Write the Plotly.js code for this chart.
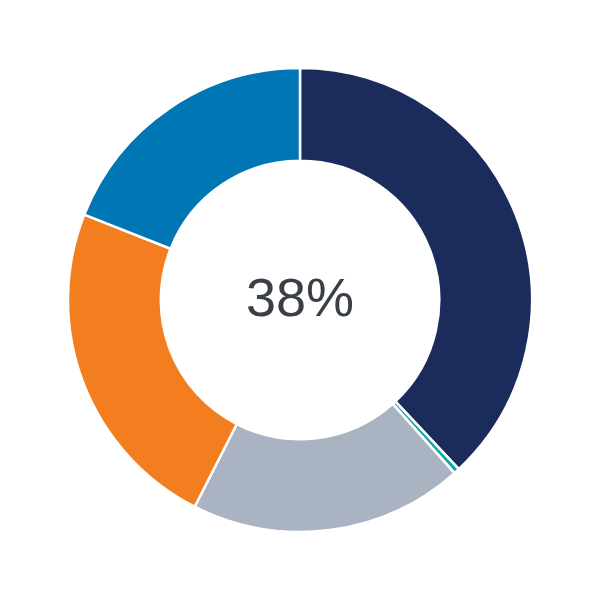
<!DOCTYPE html>
<html><head><meta charset="utf-8">
<script src="https://cdn.plot.ly/plotly-3.0.1.min.js"></script>
<style>html,body{margin:0;padding:0;background:#fff}#c{width:600px;height:600px}</style>
</head><body><div id="c"></div>
<script>
const labels = ["A","B","C","D","E"];
const values = [38, 0.4, 19.1, 23.5, 19];
const colors = ["#1b2b5b","#12a7a0","#a9b3c1","#f37e20","#0176b4"];
const centerText = "38%";
Plotly.newPlot("c", [{
  type: "pie", labels: labels, values: values, hole: 0.6, sort: false,
  direction: "clockwise", rotation: 0,
  marker: {colors: colors, line: {color: "#ffffff", width: 2.5}},
  textinfo: "none", hoverinfo: "none"
}], {
  width: 600, height: 600, showlegend: false,
  margin: {l: 68, r: 68, t: 68, b: 68},
  paper_bgcolor: "#fff",
  annotations: [{text: centerText, x: 0.5, y: 0.507, xref: "paper", yref: "paper", showarrow: false,
    font: {family: "Liberation Sans, Arial, sans-serif", size: 54, color: "#3a3f47"}}]
}, {displayModeBar: false, staticPlot: true});
</script></body></html>
